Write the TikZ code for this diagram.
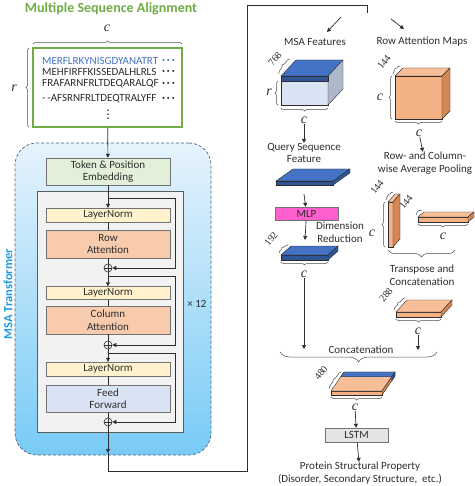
\documentclass[tikz,border=0pt]{standalone}
\usepackage{fontspec}
\setmainfont{Carlito}
\newfontfamily\numfont{Liberation Serif}
\usetikzlibrary{arrows.meta,positioning,calc,decorations.pathreplacing}
\definecolor{leaf}{RGB}{112,173,71}
\definecolor{seqblue}{RGB}{68,114,196}
\definecolor{navy}{RGB}{47,85,151}
\definecolor{skyink}{RGB}{30,155,224}
\definecolor{skytop}{RGB}{230,243,252}
\definecolor{skybot}{RGB}{120,203,246}
\definecolor{frame}{RGB}{80,100,125}
\definecolor{ink}{RGB}{45,45,45}
\definecolor{edge}{RGB}{115,115,115}
\definecolor{shell}{RGB}{242,242,242}
\definecolor{mint}{RGB}{226,240,217}
\definecolor{cream}{RGB}{255,242,204}
\definecolor{peach}{RGB}{248,203,173}
\definecolor{lav}{RGB}{218,227,243}
\definecolor{mlppink}{RGB}{255,94,205}
\definecolor{ash}{RGB}{228,228,228}
\definecolor{tanmid}{RGB}{244,177,131}
\definecolor{tandark}{RGB}{212,135,84}
\definecolor{tanlight}{RGB}{247,190,152}
\definecolor{paleblue}{RGB}{218,227,243}
\definecolor{greyblue}{RGB}{173,185,202}
\tikzset{
  >={Triangle[length=4pt,width=4pt]},
  txt/.style={font=\fontsize{11}{12.5}\selectfont,text=ink,align=center,inner sep=0pt},
  block/.style={draw=edge,fill=#1,minimum width=124pt,align=center,inner sep=0pt,
    font=\fontsize{11}{12.5}\selectfont,text=ink},
  block/.default=cream,
  seq/.style={font=\fontsize{11}{12}\selectfont,text=ink,anchor=west,inner sep=0pt},
  flow/.style={->,draw=ink,line width=0.7pt},
  link/.style={draw=ink,line width=0.7pt},
  curly/.style={decorate,decoration={brace,amplitude=#1},draw=ink!85,line width=0.5pt},
  curly/.default=3pt,
  dim/.style={font=\numfont\fontsize{10}{10}\selectfont,text=ink,rotate=52,inner sep=0pt},
  var/.style={font=\numfont\itshape\fontsize{14}{14}\selectfont,text=ink,inner sep=0pt},
  add/.style={circle,draw=ink,line width=0.6pt,minimum size=8pt,inner sep=0pt,
    path picture={\draw[ink,line width=0.6pt]
      (path picture bounding box.north) -- (path picture bounding box.south)
      (path picture bounding box.west) -- (path picture bounding box.east);}},
  % cuboid: width, height, depth x, depth y, front, top, side
  pics/box3d/.style n args={7}{code={
    \filldraw[draw=ink,line width=0.4pt,fill=#5] (0,0) rectangle (#1,#2);
    \filldraw[draw=ink,line width=0.4pt,fill=#6] (0,0) -- (#3,-#4) -- ({#1+#3},-#4) -- (#1,0) -- cycle;
    \filldraw[draw=ink,line width=0.4pt,fill=#7] (#1,0) -- ({#1+#3},-#4) -- ({#1+#3},{#2-#4}) -- (#1,#2) -- cycle;
  }},
}

\begin{document}
\begin{tikzpicture}[x=1pt,y=-1pt]
  \useasboundingbox (0,0) rectangle (474,486);

  % left: MSA input
  \node[font=\bfseries\fontsize{14}{16}\selectfont,text=leaf,inner sep=0pt] (title) at (111,9) {Multiple Sequence Alignment};
  \node[draw=leaf,line width=1.5pt,minimum width=149pt,minimum height=79pt,inner sep=0pt] (msa) at (107.5,87.5) {};
  \node[seq,text=seqblue] (s1) at (42,61) {MERFLRKYNISGDYANATRT};
  \node[seq] (s2) at (42,72) {MEHFIRFFKISSEDALHLRLS};
  \node[seq] (s3) at (42,84) {FRAFARNFRLTDEQARALQF};
  \node[seq] (s4) at (42,99) {-\,-AFSRNFRLTDEQTRALYFF};
  \foreach \r/\y in {1/61,2/72,3/84,4/99}
    \node[seq,font=\bfseries\fontsize{11}{12}\selectfont,text={\ifnum\r=1 seqblue\else ink\fi}] (d\r) at (162,\y) {·\,·\,·};
  \node[seq,anchor=center,font=\bfseries\fontsize{11}{12}\selectfont] (vd) at (108,112) {\vdots};
  \draw[curly] (33,44) -- (182,44);
  \node[var] (cmsa) at (107,28) {c};
  \draw[curly] (29,127) -- (29,48);
  \node[var] (rmsa) at (14,88) {r};

  % MSA transformer
  \node[draw=frame,dash pattern=on 3pt off 2pt,line width=0.7pt,rounded corners=22pt,
    top color=skytop,bottom color=skybot,minimum width=196pt,minimum height=312pt] (tfm) at (113,299) {};
  \node[rotate=90,font=\bfseries\fontsize{12.5}{14}\selectfont,text=skyink,inner sep=0pt] (tfmlbl) at (8,294) {MSA Transformer};
  \node[draw=edge!80!black,fill=shell,line width=0.7pt,minimum width=146pt,minimum height=241pt] (stack) at (110,311.5) {};
  \node[txt] (x12) at (197,304) {× 12};

  \node[block=mint,minimum height=27pt] (embed) at (108,171.5) {Token \& Position\\Embedding};
  \node[block,minimum height=14pt] (ln1) at (108,215) {LayerNorm};
  \node[block=peach,minimum height=28pt] (rowatt) at (108,244) {Row\\Attention};
  \node[add] (add1) at (108,268) {};
  \node[block,minimum height=13pt] (ln2) at (108,293) {LayerNorm};
  \node[block=peach,minimum height=28pt] (colatt) at (108,320) {Column\\Attention};
  \node[add] (add2) at (108,345) {};
  \node[block,minimum height=14pt] (ln3) at (108,369) {LayerNorm};
  \node[block=lav,minimum height=27pt] (ffn) at (108,398.5) {Feed\\Forward};
  \node[add] (add3) at (108,422) {};

  \draw[flow] (msa) -- (embed);
  \draw[flow] (embed) -- (ln1);
  \draw[link] (ln1) -- (rowatt);
  \draw[link] (rowatt) -- (add1);
  \draw[flow] (add1) -- (ln2);
  \draw[link] (ln2) -- (colatt);
  \draw[link] (colatt) -- (add2);
  \draw[flow] (add2) -- (ln3);
  \draw[link] (ln3) -- (ffn);
  \draw[link] (ffn) -- (add3);
  % residual branches
  \coordinate (r1) at (108,198);
  \coordinate (r2) at (108,276);
  \coordinate (r3) at (108,353);
  \draw[flow] (r1) -| (175,268) -- (add1);
  \draw[flow] (r2) -| (175,345) -- (add2);
  \draw[flow] (r3) -| (175,422) -- (add3);

  % to the right column
  \coordinate (tail) at (108,453);
  \coordinate (fork) at (367,13);
  \draw[flow] (add3) -- (tail);
  \draw[link] (tail) |- (247,471) -- (247,5) -| (fork);
  \coordinate (fl1) at (341,17);
  \coordinate (fl2) at (391,19);
  \coordinate (fe1) at (327,32);
  \coordinate (fe2) at (404,29);
  \draw[flow] (fl1) -- (fe1);
  \draw[flow] (fl2) -- (fe2);

  % MSA features branch
  \node[txt] (feat) at (315,42) {MSA Features};
  \pic at (281,76) {box3d={47}{29}{15}{16}{paleblue}{seqblue}{greyblue}};
  \filldraw[navy,draw=ink,line width=0.4pt] (281,76) rectangle (328,81);
  \draw[curly] (279,74) -- (290,59);
  \node[dim] (d768) at (275,59) {768};
  \draw[curly] (278,105) -- (278,81);
  \node[var] (rcube) at (269,92) {r};
  \draw[curly] (328,108) -- (281,108);
  \node[var] (ccube) at (304,120) {c};
  \node[txt] (query) at (304,153) {Query Sequence\\Feature};
  \draw[flow] (ccube) -- (query);
  \pic at (276,181) {box3d={57}{4}{17}{12}{navy}{seqblue}{navy}};
  \coordinate (qs) at (304,194);
  \node[draw=edge,fill=mlppink,minimum width=63pt,minimum height=13pt,inner sep=0pt,
    font=\fontsize{11}{12}\selectfont,text=ink] (mlp) at (306.5,213.5) {MLP};
  \draw[flow] (qs) -- (mlp);
  \node[txt] (dimred) at (340,232.5) {Dimension\\Reduction};
  \coordinate (q192) at (305,240);
  \draw[flow] (mlp) -- (q192);
  \pic at (281,255) {box3d={47}{5}{10}{9}{navy}{seqblue}{navy}};
  \draw[curly=2pt] (279,253) -- (288,245);
  \node[dim] (d192) at (271,239) {192};
  \draw[curly] (328,262) -- (281,262);
  \node[var] (c192) at (304,274) {c};
  \coordinate (j1) at (304,349);
  \draw[flow] (c192) -- (j1);

  % row attention branch
  \node[txt] (maps) at (422,42) {Row Attention Maps};
  \pic at (395,76) {box3d={47}{43}{8}{8}{tanmid}{tanlight}{tandark}};
  \draw[curly=2pt] (393,74) -- (400,66);
  \node[dim] (d144a) at (384,62) {144};
  \draw[curly] (392,119) -- (392,76);
  \node[var] (crow) at (380,97) {c};
  \draw[curly] (442,121) -- (395,121);
  \node[var] (crowb) at (419,133) {c};
  \node[txt] (pool) at (425,163) {Row- and Column-\\wise Average Pooling};
  \draw[flow] (crowb) -- (pool);
  \pic at (388,202) {box3d={5}{45}{7}{8}{tanmid}{tanlight}{tandark}};
  \draw[curly=2pt] (386,200) -- (393,192);
  \node[dim] (d144b) at (377,187) {144};
  \draw[curly] (385,247) -- (385,202);
  \node[var] (cvert) at (372,233) {c};
  \pic at (418,217) {box3d={50}{5}{6}{5}{tanmid}{tanlight}{tandark}};
  \draw[curly=2pt] (416,215) -- (422,210);
  \node[dim] (d144c) at (406,202) {144};
  \draw[curly] (468,224) -- (418,224);
  \node[var] (chor) at (443,236) {c};
  \draw[curly=7pt] (455,250) -- (388,250);
  \node[txt] (transp) at (422,275) {Transpose and\\Concatenation};
  \pic at (396,312) {box3d={45}{5}{11}{12}{tanmid}{tanlight}{tandark}};
  \draw[curly=2pt] (394,310) -- (405,298);
  \node[dim] (d288) at (386,295) {288};
  \draw[curly] (441,319) -- (396,319);
  \node[var] (c288) at (418,331) {c};
  \coordinate (j2) at (418,350);
  \draw[flow] (c288) -- (j2);

  % merge
  \draw[curly=10pt] (437,352) -- (280,352);
  \node[txt] (concat) at (361,350) {Concatenation};
  \pic at (331,391) {box3d={51}{4}{13}{19}{tanmid}{tanlight}{tandark}};
  \filldraw[seqblue,draw=ink,line width=0.4pt] (340.75,376.75) -- (344,372) -- (395,372) -- (391.75,376.75) -- cycle;
  \filldraw[navy,draw=ink,line width=0.4pt] (391.75,376.75) -- (395,372) -- (395,376) -- (391.75,380.75) -- cycle;
  \draw[curly=2pt] (329,389) -- (341,372);
  \node[dim] (d480) at (321,373) {480};
  \draw[curly] (382,397) -- (331,397);
  \node[var] (c480) at (355,407) {c};
  \node[draw=edge,fill=ash,minimum width=63pt,minimum height=14pt,inner sep=0pt,
    font=\fontsize{11}{12}\selectfont,text=ink] (lstm) at (356.5,435) {LSTM};
  \draw[flow] (c480) -- (lstm);
  \node[txt] (prop) at (360,473) {Protein Structural Property\\(Disorder, Secondary Structure,~ etc.)};
  \draw[flow] (lstm) -- (prop);
\end{tikzpicture}
\end{document}
